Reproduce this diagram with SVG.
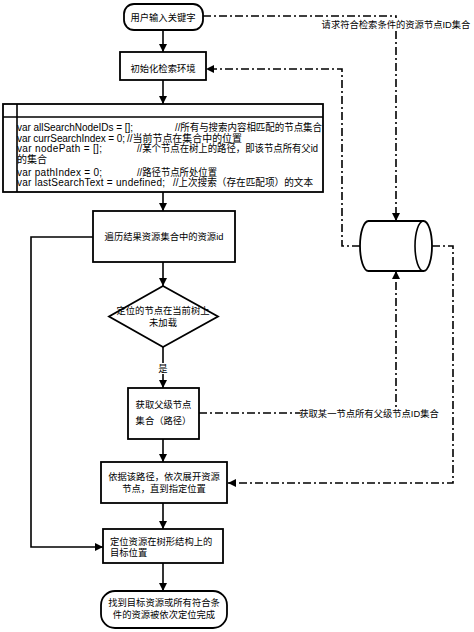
<svg xmlns="http://www.w3.org/2000/svg" width="474" height="632" viewBox="0 0 474 632">
<style>
.box{fill:#fff;stroke:#000;stroke-width:1.8}
.t{font-family:"Liberation Sans","Noto Sans CJK SC",sans-serif;font-size:9.3px;fill:#000;text-anchor:middle}
.c{font-family:"Liberation Sans","Noto Sans CJK SC",sans-serif;font-size:10px;fill:#000}
.ln{fill:none;stroke:#000;stroke-width:1.6}
.dd{fill:none;stroke:#000;stroke-width:1.6;stroke-dasharray:8,3,2,3}
</style>
<defs>
<marker id="ah" viewBox="0 0 10 10" refX="10" refY="5" markerWidth="8" markerHeight="8" markerUnits="userSpaceOnUse" orient="auto">
<path d="M0,0 L10,5 L0,10 Z" fill="#000"/>
</marker>
</defs>
<g id="connectors">
<path class="ln" d="M163,30 V52" marker-end="url(#ah)"/>
<path class="ln" d="M163,80 V104" marker-end="url(#ah)"/>
<path class="ln" d="M163,192 V211" marker-end="url(#ah)"/>
<path class="ln" d="M163,262 V286" marker-end="url(#ah)"/>
<path class="ln" d="M163,347 V388" marker-end="url(#ah)"/>
<path class="ln" d="M163,439 V462" marker-end="url(#ah)"/>
<path class="ln" d="M163,503 V529" marker-end="url(#ah)"/>
<path class="ln" d="M163,563 V591" marker-end="url(#ah)"/>
<path class="ln" d="M93,237 H31 V547 H103" marker-end="url(#ah)"/>
<path class="dd" d="M203,16 H396 V221" marker-end="url(#ah)"/>
<path class="dd" d="M360,246 H342 V69 H206" marker-end="url(#ah)"/>
<path class="dd" d="M199,413 H396 V271" marker-end="url(#ah)"/>
<path class="dd" d="M432,246 H453 V483 H228" marker-end="url(#ah)"/>
<rect x="322" y="18" width="149" height="12" fill="#fff"/>
<text class="t" x="396" y="28">请求符合检索条件的资源节点ID集合</text>
<rect x="300" y="407" width="139" height="12" fill="#fff"/>
<text class="t" x="369" y="417">获取某一节点所有父级节点ID集合</text>
<rect x="157" y="363" width="12" height="11" fill="#fff"/>
<text class="t" x="163" y="372">是</text>
</g>
<g id="start">
<rect class="box" x="124" y="4" width="79" height="26" rx="10"/>
<text class="t" x="163" y="20.5">用户输入关键字</text>
</g>
<g id="init">
<rect class="box" x="120" y="52" width="86" height="28"/>
<text class="t" x="163" y="72">初始化检索环境</text>
</g>
<g id="code">
<rect class="box" x="3" y="104" width="320" height="88"/>
<line class="ln" x1="3" y1="117" x2="323" y2="117"/>
<line class="ln" x1="17" y1="104" x2="17" y2="192"/>
<text class="c" x="17" y="131" textLength="116" lengthAdjust="spacing">var allSearchNodeIDs = [];</text>
<text class="c" x="175" y="131" textLength="147" lengthAdjust="spacingAndGlyphs">//所有与搜索内容相匹配的节点集合</text>
<text class="c" x="17" y="142" textLength="108" lengthAdjust="spacing">var currSearchIndex = 0;</text>
<text class="c" x="127" y="142" textLength="115" lengthAdjust="spacingAndGlyphs">//当前节点在集合中的位置</text>
<text class="c" x="17" y="152" textLength="85" lengthAdjust="spacing">var nodePath = [];</text>
<text class="c" x="137" y="152" textLength="181" lengthAdjust="spacingAndGlyphs">//某个节点在树上的路径，即该节点所有父id</text>
<text class="c" x="17" y="163">的集合</text>
<text class="c" x="17" y="176" textLength="85" lengthAdjust="spacing">var pathIndex = 0;</text>
<text class="c" x="137" y="176" textLength="80" lengthAdjust="spacingAndGlyphs">//路径节点所处位置</text>
<text class="c" x="17" y="186" textLength="148" lengthAdjust="spacing">var lastSearchText = undefined;</text>
<text class="c" x="173" y="186" textLength="140" lengthAdjust="spacingAndGlyphs">//上次搜索（存在匹配项）的文本</text>
</g>
<g id="traverse">
<rect class="box" x="93" y="211" width="142" height="51"/>
<text class="t" x="164" y="240">遍历结果资源集合中的资源id</text>
</g>
<g id="decision">
<path class="box" d="M163,286 L218,316.5 L163,347 L109,316.5 Z"/>
<text class="t" x="163" y="314">定位的节点在当前树上</text>
<text class="t" x="163" y="326">未加载</text>
</g>
<g id="getpath">
<rect class="box" x="128" y="388" width="71" height="51"/>
<text class="t" x="163.5" y="408">获取父级节点</text>
<text class="t" x="163.5" y="424">集合（路径）</text>
</g>
<g id="expand">
<rect class="box" x="101" y="462" width="126" height="41"/>
<text class="t" x="164" y="480">依据该路径，依次展开资源</text>
<text class="t" x="164" y="492">节点，直到指定位置</text>
</g>
<g id="locate">
<rect class="box" x="103" y="529" width="120" height="34"/>
<text class="t" x="110" y="545" style="text-anchor:start">定位资源在树形结构上的</text>
<text class="t" x="110" y="556" style="text-anchor:start">目标位置</text>
</g>
<g id="end">
<rect class="box" x="101" y="591" width="126" height="37" rx="14"/>
<text class="t" x="164" y="606">找到目标资源或所有符合条</text>
<text class="t" x="164" y="618">件的资源被依次定位完成</text>
</g>
<g id="database">
<path class="box" d="M368.5,221 H423.5 A8.5,25 0 0 1 423.5,271 H368.5 A8.5,25 0 0 1 368.5,221 Z"/>
<path class="ln" d="M423.5,271 A8.5,25 0 0 1 423.5,221"/>
</g>
</svg>
